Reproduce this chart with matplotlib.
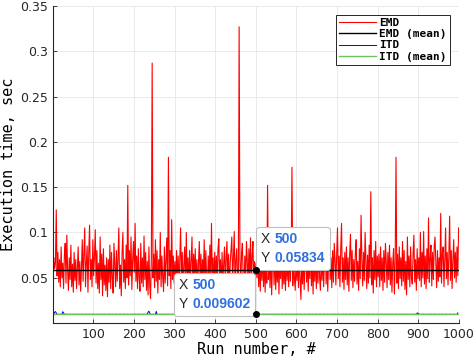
import numpy as np
import matplotlib
matplotlib.use("Agg")
from matplotlib import pyplot as plt
from matplotlib.ticker import FuncFormatter
from matplotlib.offsetbox import TextArea, HPacker, VPacker, AnnotationBbox

# EMD execution time per run (ms), one value every 2 runs
emd_ms = [
    68, 72, 60, 66, 125, 52, 78, 45, 70, 40, 84, 50, 66, 38, 74, 88, 44, 97, 58, 36, 72, 48, 86, 40, 65,
    34, 78, 47, 70, 38, 62, 84, 42, 68, 35, 60, 92, 46, 74, 105, 40, 66, 85, 34, 78, 108, 48, 70, 40, 92,
    52, 74, 103, 44, 80, 38, 66, 33, 95, 48, 76, 30, 82, 42, 64, 36, 72, 29, 70, 45, 86, 38, 78, 50, 33,
    88, 64, 40, 80, 46, 72, 105, 38, 64, 30, 78, 100, 45, 70, 38, 86, 50, 152, 42, 80, 52, 95, 37, 70, 90,
    56, 110, 46, 74, 38, 82, 50, 35, 88, 44, 72, 40, 96, 48, 78, 36, 68, 31, 84, 42, 27, 72, 287, 50, 76,
    39, 92, 46, 80, 33, 70, 48, 100, 40, 74, 50, 35, 84, 44, 70, 94, 41, 183, 52, 80, 38, 114, 48, 74, 44,
    68, 40, 80, 47, 74, 36, 70, 105, 44, 78, 34, 64, 84, 40, 100, 48, 72, 38, 80, 43, 68, 95, 37, 76, 49,
    82, 41, 70, 35, 66, 90, 45, 76, 39, 70, 47, 92, 40, 80, 50, 37, 74, 44, 86, 52, 110, 42, 72, 39, 78,
    49, 74, 40, 82, 93, 46, 70, 36, 78, 42, 66, 84, 38, 72, 90, 47, 76, 34, 66, 80, 95, 44, 72, 101, 40,
    68, 82, 48, 37, 327, 70, 43, 78, 88, 49, 38, 74, 46, 90, 69, 41, 82, 50, 94, 45, 74, 90, 39, 68, 48,
    66, 50, 80, 40, 72, 35, 76, 47, 82, 40, 70, 34, 78, 44, 152, 48, 72, 39, 80, 31, 66, 76, 42, 84, 37,
    68, 45, 78, 32, 70, 49, 82, 38, 74, 43, 67, 36, 80, 47, 72, 40, 86, 46, 70, 172, 41, 76, 50, 36, 72,
    47, 72, 39, 80, 48, 26, 70, 43, 78, 37, 67, 82, 45, 74, 35, 76, 49, 88, 41, 70, 32, 77, 46, 84, 38,
    68, 44, 90, 50, 36, 74, 47, 82, 40, 70, 94, 43, 76, 35, 67, 85, 48, 72, 39, 80, 45, 88, 70, 42, 76,
    105, 49, 74, 40, 82, 110, 45, 72, 37, 78, 48, 84, 42, 72, 35, 76, 98, 47, 80, 39, 70, 46, 78, 92, 43,
    68, 36, 82, 49, 119, 70, 41, 78, 47, 100, 68, 38, 75, 44, 86, 50, 145, 42, 72, 33, 80, 48, 90, 40, 74,
    51, 76, 40, 84, 47, 72, 36, 80, 45, 88, 68, 39, 78, 48, 86, 42, 72, 34, 66, 82, 32, 70, 183, 44, 76,
    38, 84, 49, 72, 41, 90, 46, 80, 37, 68, 31, 95, 48, 74, 40, 84, 50, 43, 76, 97, 45, 70, 36, 82, 49,
    72, 47, 100, 40, 78, 50, 101, 43, 74, 38, 82, 49, 116, 45, 70, 86, 41, 78, 48, 84, 95, 68, 39, 80, 46,
    72, 51, 121, 44, 76, 84, 40, 70, 105, 49, 78, 42, 74, 118, 47, 80, 38, 70, 92, 50, 78, 45, 84, 52, 105,
]

# ITD execution time per run (0.1 ms units), one value every 2 runs
itd_dms = [
    96, 97, 118, 126, 110, 96, 95, 97, 96, 95, 96, 97, 125, 112, 96, 95, 96, 97, 96, 95, 96, 96, 97, 95, 96,
    95, 96, 97, 96, 95, 96, 97, 96, 95, 96, 96, 97, 95, 96, 95, 96, 97, 96, 95, 96, 97, 96, 95, 96, 96,
    97, 95, 96, 95, 96, 97, 96, 95, 96, 97, 96, 95, 96, 96, 97, 95, 96, 95, 96, 97, 96, 95, 96, 97, 96,
    95, 96, 96, 97, 95, 96, 95, 96, 97, 96, 95, 96, 97, 96, 95, 96, 96, 97, 95, 96, 95, 96, 97, 96, 95,
    96, 97, 96, 95, 96, 96, 97, 95, 96, 95, 96, 97, 96, 95, 96, 97, 96, 120, 131, 108, 96, 95, 96, 97, 96,
    95, 96, 128, 97, 95, 96, 95, 96, 97, 96, 95, 96, 97, 96, 95, 96, 96, 97, 95, 96, 95, 96, 97, 96, 95,
    96, 97, 96, 112, 96, 96, 97, 95, 96, 95, 96, 97, 96, 95, 96, 97, 96, 95, 96, 96, 97, 95, 96, 95, 96,
    97, 96, 95, 96, 97, 96, 95, 96, 96, 97, 95, 96, 95, 96, 97, 96, 95, 96, 97, 96, 95, 96, 96, 97, 95,
    96, 95, 96, 97, 96, 95, 96, 97, 96, 95, 96, 96, 97, 95, 96, 95, 96, 97, 96, 95, 96, 97, 96, 95, 96,
    96, 97, 95, 96, 95, 96, 97, 96, 95, 96, 97, 96, 95, 96, 96, 97, 95, 96, 95, 96, 97, 96, 95, 96, 97,
    104, 95, 96, 96, 97, 95, 96, 95, 96, 97, 96, 95, 96, 97, 96, 95, 96, 96, 97, 95, 96, 95, 96, 97, 96,
    95, 96, 97, 96, 95, 96, 96, 97, 95, 96, 95, 96, 97, 96, 95, 96, 97, 96, 95, 96, 96, 97, 95, 96, 95,
    96, 97, 96, 95, 96, 97, 96, 95, 96, 96, 97, 95, 96, 95, 96, 97, 96, 95, 96, 97, 96, 95, 96, 96, 97,
    95, 96, 95, 96, 97, 96, 95, 96, 97, 96, 95, 96, 96, 97, 95, 96, 95, 96, 97, 96, 95, 96, 97, 96, 95,
    96, 96, 97, 95, 96, 95, 96, 97, 96, 95, 96, 97, 96, 95, 96, 96, 97, 95, 96, 95, 96, 97, 96, 95, 96,
    97, 96, 95, 96, 96, 97, 95, 96, 95, 96, 97, 96, 95, 96, 97, 96, 95, 96, 96, 97, 95, 96, 95, 96, 97,
    96, 95, 96, 97, 96, 95, 96, 96, 97, 95, 96, 95, 96, 97, 96, 95, 96, 97, 96, 95, 96, 96, 97, 95, 96,
    95, 96, 97, 96, 95, 96, 97, 96, 95, 96, 96, 97, 95, 96, 95, 96, 97, 96, 95, 96, 97, 96, 95, 110,
    110, 96, 97, 96, 95, 96, 96, 97, 95, 96, 95, 96, 97, 96, 95, 96, 97, 96, 95, 96, 96, 97, 95, 96, 95,
    96, 97, 96, 95, 96, 97, 96, 95, 96, 96, 97, 95, 96, 95, 96, 97, 96, 95, 96, 97, 96, 95, 96, 96, 112,
]

emd_mean = 0.05834
itd_mean = 0.009602
tip_run = 500

emd = np.array(emd_ms) / 1000.0
itd = np.array(itd_dms) / 10000.0
runs_emd = np.arange(1, 2 * len(emd), 2)
runs_itd = np.arange(1, 2 * len(itd), 2)

fig = plt.figure(figsize=(4.74, 3.56), dpi=100)
ax = fig.add_axes([53 / 474, 33 / 356, 406 / 474, 317 / 356])

ax.plot(runs_emd, emd, color="#ff0000", lw=0.8, label="EMD")
ax.axhline(emd_mean, color="black", lw=1.0, label="EMD (mean)")
ax.plot(runs_itd, itd, color="#0000ff", lw=0.7, label="ITD")
ax.axhline(itd_mean, color="#6cc35c", lw=1.0, label="ITD (mean)")

ax.set_xlim(1, 1000)
ax.set_ylim(0, 0.35)
ax.set_xticks(np.arange(100, 1001, 100))
ax.set_yticks(np.arange(0.05, 0.351, 0.05))
ax.yaxis.set_major_formatter(FuncFormatter(lambda v, p: "%g" % round(v, 2)))
ax.grid(True, color="#e6e6e6", lw=0.6)
ax.set_axisbelow(True)
for s in ["top", "right"]:
    ax.spines[s].set_visible(False)
for s in ["left", "bottom"]:
    ax.spines[s].set_color("#262626")
    ax.spines[s].set_linewidth(0.8)
ax.tick_params(direction="in", length=3, width=0.6, colors="#262626", labelsize=9)

mono = {"family": "DejaVu Sans Mono", "size": 11}
ax.set_xlabel("Run number, #", fontdict=mono, labelpad=1)
ax.set_ylabel("Execution time, sec", fontdict=mono, labelpad=3)

leg = ax.legend(loc="upper right", prop={"family": "DejaVu Sans Mono", "weight": "bold", "size": 8},
                handlelength=3.3, handletextpad=0.3, labelspacing=0.1, borderaxespad=0.8,
                fancybox=False, edgecolor="#262626", framealpha=1, borderpad=0.3)
leg.get_frame().set_linewidth(0.7)

# data tips
def datatip(xv, yv, align, offset):
    tprop = {"family": "Liberation Sans", "size": 10}
    vprop = {"family": "Liberation Sans", "size": 10, "weight": "bold"}
    row1 = HPacker(children=[TextArea("X", textprops=dict(color="#262626", **tprop)),
                             TextArea("%d" % xv, textprops=dict(color="#2f6fe0", **vprop))],
                   pad=0, sep=3)
    row2 = HPacker(children=[TextArea("Y", textprops=dict(color="#262626", **tprop)),
                             TextArea("%g" % yv, textprops=dict(color="#2f6fe0", **vprop))],
                   pad=0, sep=3)
    box = VPacker(children=[row1, row2], pad=0, sep=3.5)
    ab = AnnotationBbox(box, (xv, yv), xybox=offset, boxcoords="offset points",
                        box_alignment=align, frameon=True, pad=0.35,
                        bboxprops=dict(facecolor="white", edgecolor="#bfbfbf", lw=0.8,
                                       boxstyle="round,pad=0.35,rounding_size=0.2"),
                        zorder=5)
    ax.add_artist(ab)
    ax.plot([xv], [yv], "o", color="black", ms=4, zorder=6)

datatip(tip_run, emd_mean, (0, 0), (3.8, 3.8))
datatip(tip_run, itd_mean, (1, 0), (-4.0, 2.6))

fig.savefig("out.png", dpi=100)
